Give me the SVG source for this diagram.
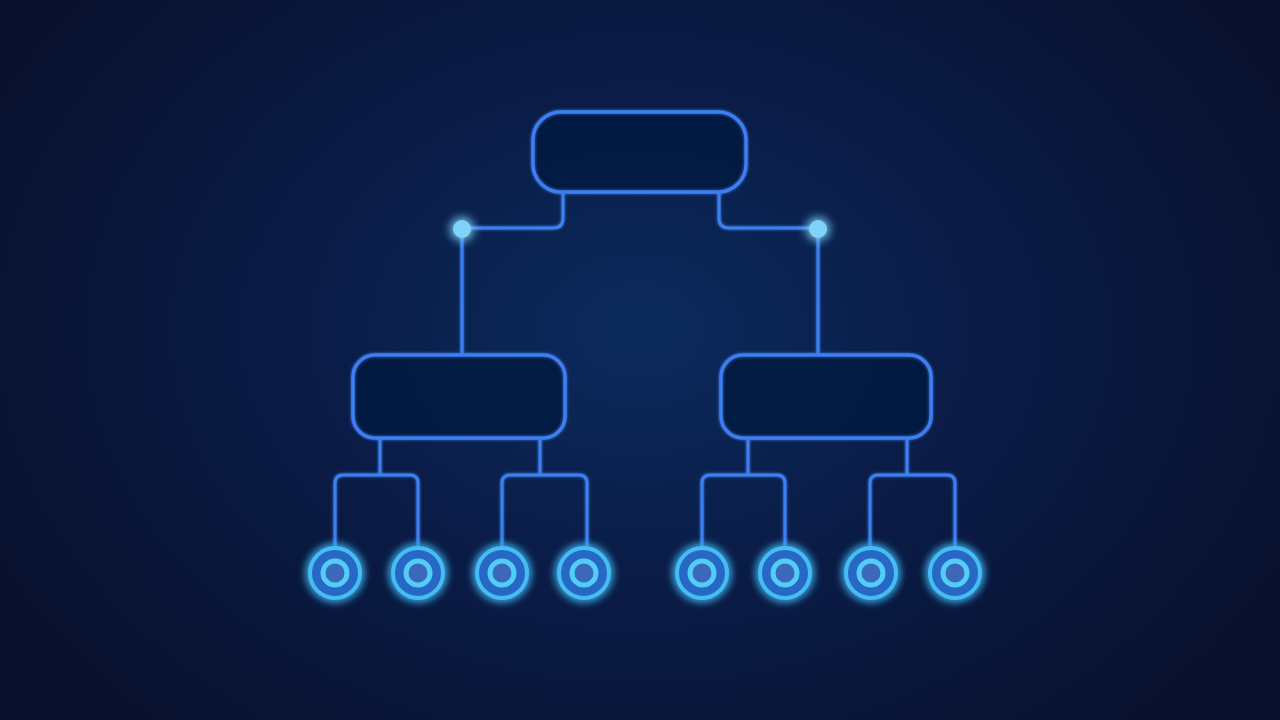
<svg xmlns="http://www.w3.org/2000/svg" width="1280" height="720" viewBox="0 0 1280 720">
<defs>
<radialGradient id="bg" cx="640" cy="330" r="720" gradientUnits="userSpaceOnUse" gradientTransform="translate(640 330) scale(1 0.75) translate(-640 -330)">
<stop offset="0" stop-color="#0b2b5d"/>
<stop offset="0.45" stop-color="#0a1c47"/>
<stop offset="1" stop-color="#09112f"/>
</radialGradient>
<filter id="glow" x="-60%" y="-60%" width="220%" height="220%">
<feGaussianBlur stdDeviation="5" result="b"/>
<feMerge><feMergeNode in="b"/><feMergeNode in="b"/><feMergeNode in="SourceGraphic"/></feMerge>
</filter>
<filter id="glowStrong" x="-150%" y="-150%" width="400%" height="400%">
<feGaussianBlur stdDeviation="6" result="b"/>
<feMerge><feMergeNode in="b"/><feMergeNode in="b"/><feMergeNode in="SourceGraphic"/></feMerge>
</filter>
<filter id="soft" x="-20%" y="-20%" width="140%" height="140%">
<feGaussianBlur stdDeviation="1.5" result="b"/>
<feMerge><feMergeNode in="b"/><feMergeNode in="SourceGraphic"/></feMerge>
</filter>
</defs>
<style>
.box{fill:#08173f;fill-opacity:0.55;stroke:#3d7ff0;stroke-width:3.5}
.wire{fill:none;stroke:#3a80ee;stroke-width:3}
.ring{fill:#2868c4;stroke:#45bdf2;stroke-width:4}
.inner{fill:#3b68b8;stroke:#52cdf7;stroke-width:5}
.dot{fill:#7fd3fb}
</style>
<rect width="1280" height="720" fill="url(#bg)"/>
<g id="connectors" filter="url(#soft)">
<path class="wire" d="M563 192 V218 Q563 228 553 228 H462 V355"/>
<path class="wire" d="M719 192 V218 Q719 228 729 228 H818 V355"/>
<path class="wire" d="M380 438 V475 M335 548 V483 Q335 475 343 475 H410 Q418 475 418 483 V548"/>
<path class="wire" d="M540 438 V475 M502 548 V483 Q502 475 510 475 H579 Q587 475 587 483 V548"/>
<path class="wire" d="M748 438 V475 M702 548 V483 Q702 475 710 475 H777 Q785 475 785 483 V548"/>
<path class="wire" d="M907 438 V475 M870 548 V483 Q870 475 878 475 H947 Q955 475 955 483 V548"/>
</g>
<g id="root" filter="url(#soft)"><rect class="box" x="533" y="112" width="213" height="80" rx="28"/></g>
<g id="mid-left" filter="url(#soft)"><rect class="box" x="353" y="355" width="212" height="83" rx="22"/></g>
<g id="mid-right" filter="url(#soft)"><rect class="box" x="721" y="355" width="210" height="83" rx="22"/></g>
<g id="junction-left" filter="url(#glowStrong)"><circle class="dot" cx="462" cy="229" r="9"/></g>
<g id="junction-right" filter="url(#glowStrong)"><circle class="dot" cx="818" cy="229" r="9"/></g>
<g id="leaf-1" filter="url(#glow)"><circle class="ring" cx="335" cy="573" r="25"/><circle class="inner" cx="335" cy="573" r="12"/></g>
<g id="leaf-2" filter="url(#glow)"><circle class="ring" cx="418" cy="573" r="25"/><circle class="inner" cx="418" cy="573" r="12"/></g>
<g id="leaf-3" filter="url(#glow)"><circle class="ring" cx="502" cy="573" r="25"/><circle class="inner" cx="502" cy="573" r="12"/></g>
<g id="leaf-4" filter="url(#glow)"><circle class="ring" cx="584" cy="573" r="25"/><circle class="inner" cx="584" cy="573" r="12"/></g>
<g id="leaf-5" filter="url(#glow)"><circle class="ring" cx="702" cy="573" r="25"/><circle class="inner" cx="702" cy="573" r="12"/></g>
<g id="leaf-6" filter="url(#glow)"><circle class="ring" cx="785" cy="573" r="25"/><circle class="inner" cx="785" cy="573" r="12"/></g>
<g id="leaf-7" filter="url(#glow)"><circle class="ring" cx="871" cy="573" r="25"/><circle class="inner" cx="871" cy="573" r="12"/></g>
<g id="leaf-8" filter="url(#glow)"><circle class="ring" cx="955" cy="573" r="25"/><circle class="inner" cx="955" cy="573" r="12"/></g>
</svg>
